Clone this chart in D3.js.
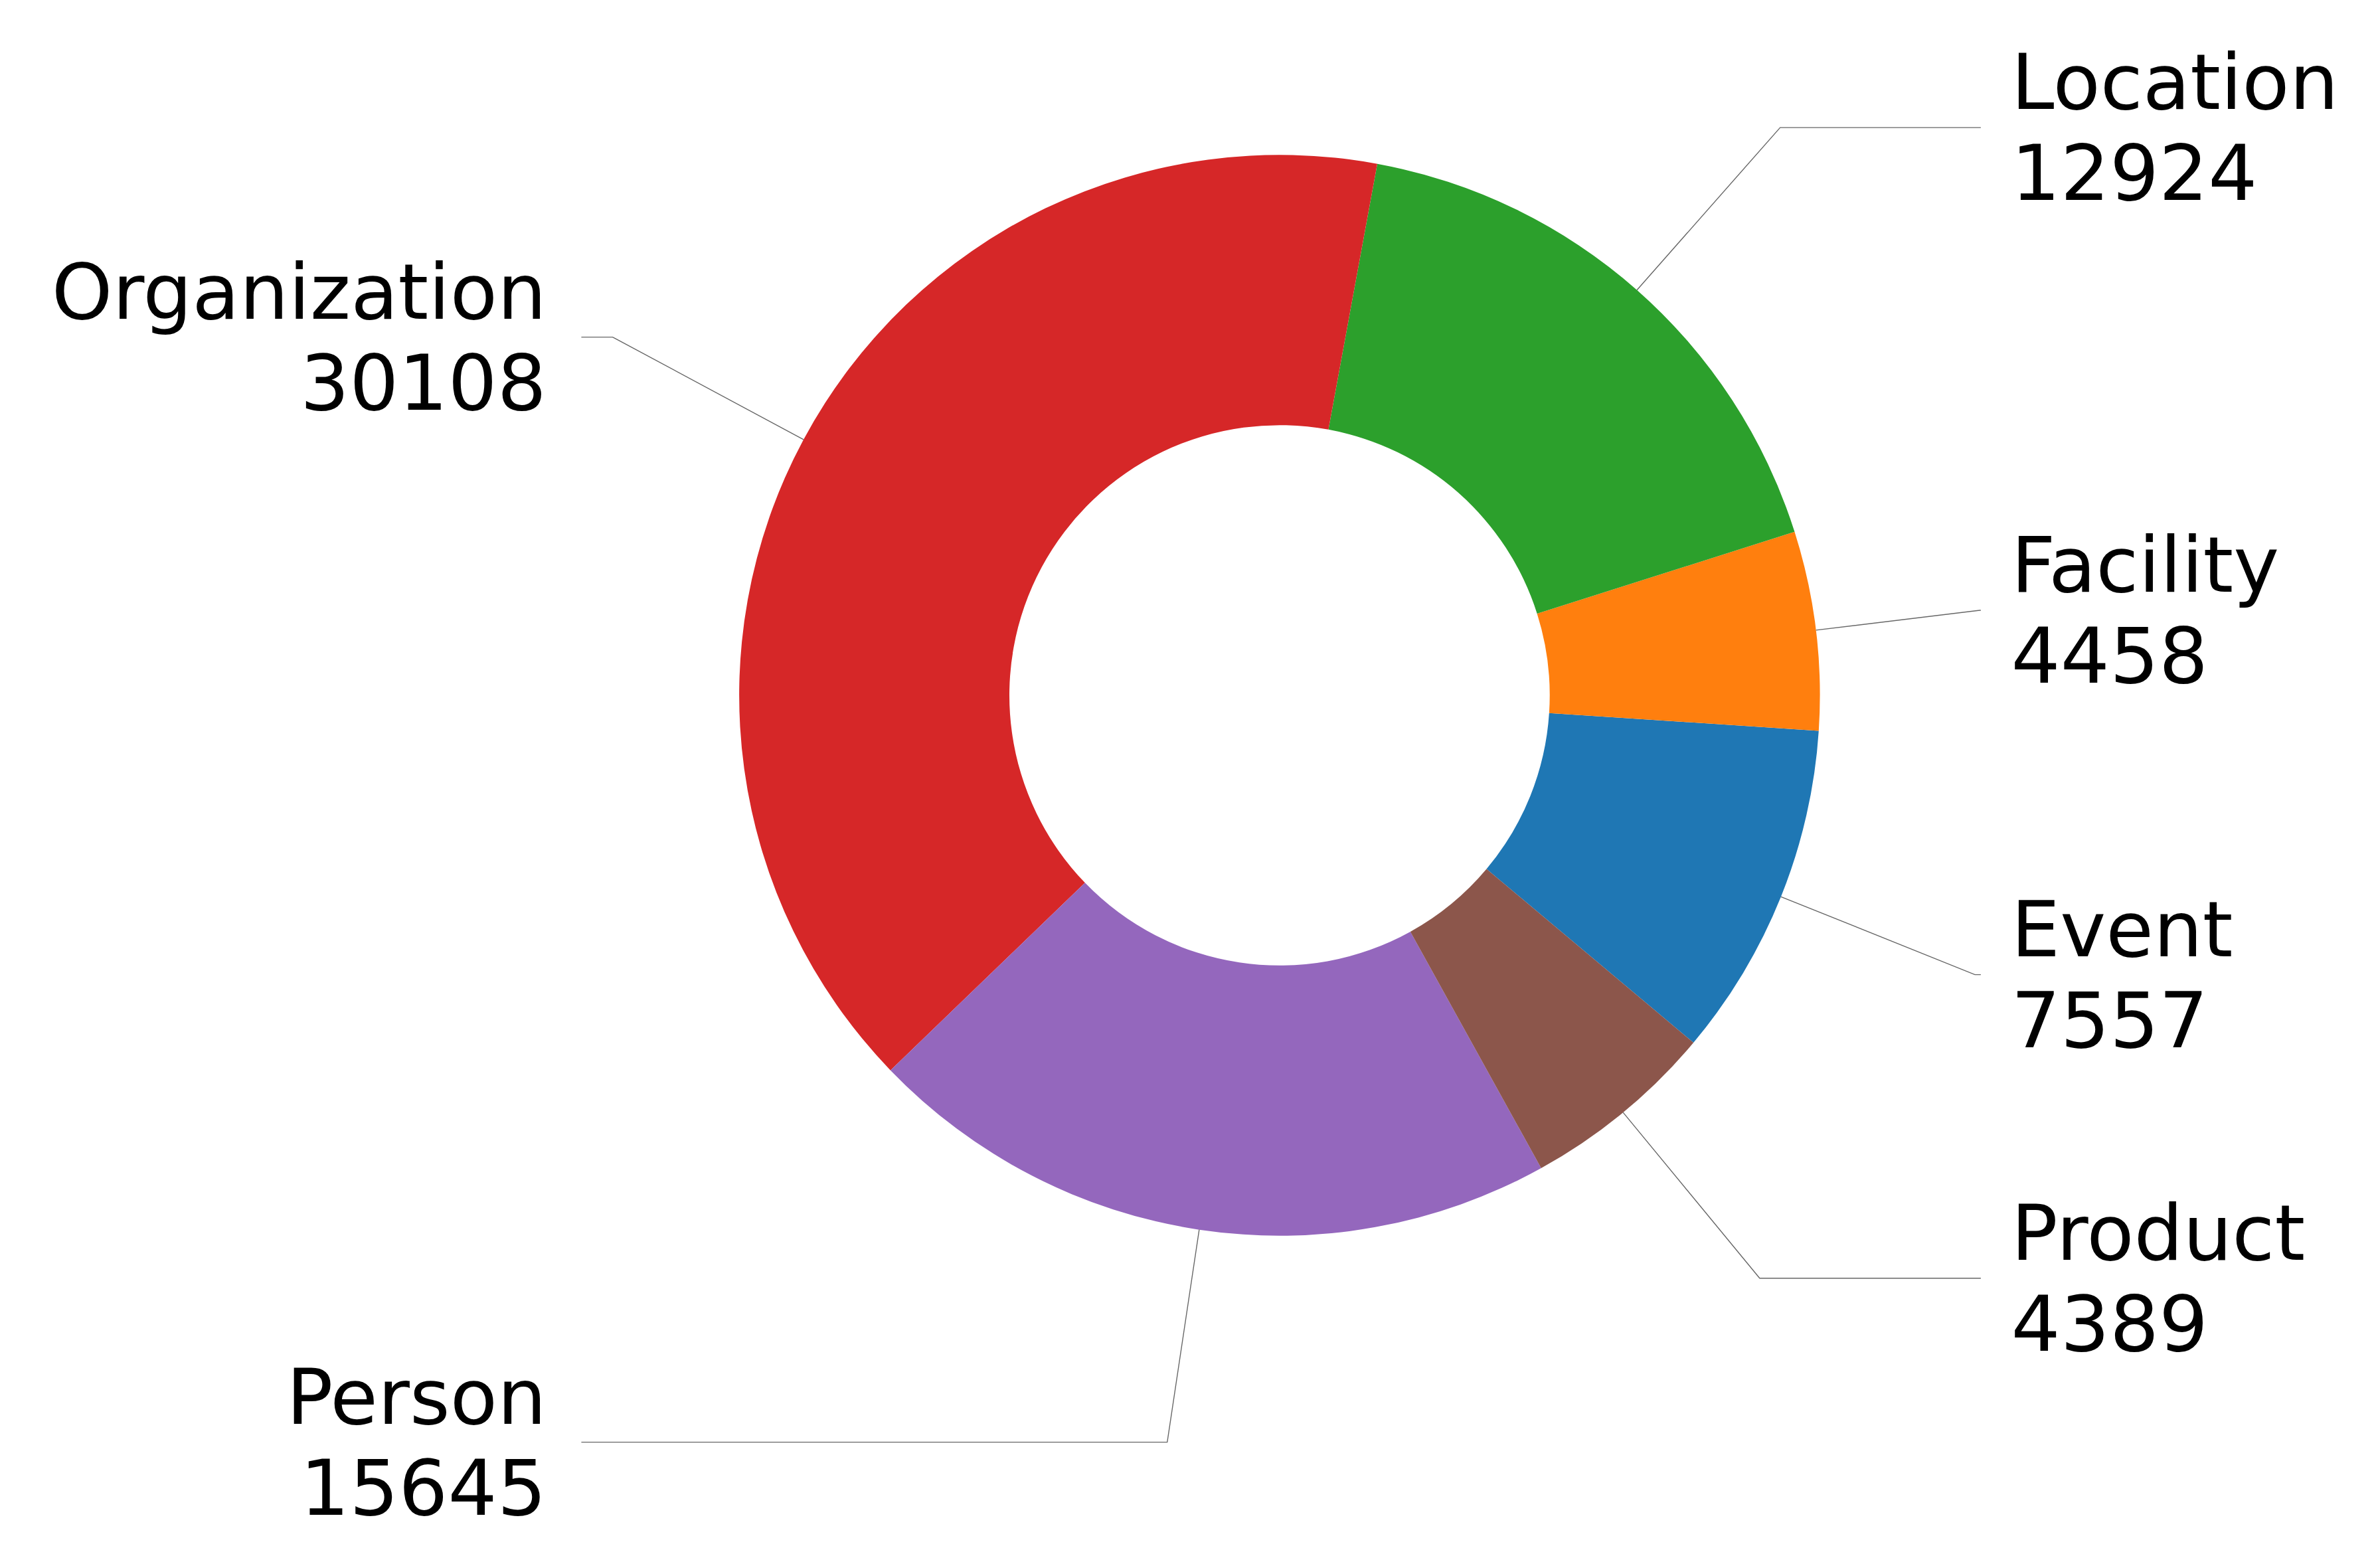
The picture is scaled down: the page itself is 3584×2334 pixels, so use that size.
<!DOCTYPE html>
<html><head><meta charset="utf-8">
<script src="https://cdn.jsdelivr.net/npm/d3@7"></script>
<style>html,body{margin:0;padding:0;background:#fff}</style>
</head><body>
<script>
const categories = ["Event","Facility","Location","Organization","Person","Product"];
const values = [7557,4458,12924,30108,15645,4389];
const colors = ["#1f77b4","#ff7f0e","#2ca02c","#d62728","#9467bd","#8c564b"];
const labelY = [642,402,84,222,950,842];

const W=1568,H=1021, cx=843, cy=458, R=356, r=178;
const svg=d3.select("body").append("svg").attr("width",3584).attr("height",2334)
  .attr("viewBox",`0 0 ${W} ${H}`);
const g=svg.append("g").attr("transform",`translate(${cx},${cy})`);
const start=(90+40)*Math.PI/180;
const pie=d3.pie().sort(null).startAngle(start).endAngle(start-2*Math.PI);
const arcs=pie(values);
const arc=d3.arc().innerRadius(r).outerRadius(R);
g.selectAll("path.s").data(arcs).enter().append("path")
  .attr("d",arc).attr("fill",(d,i)=>colors[i]);

arcs.forEach((d,i)=>{
  const a=(d.startAngle+d.endAngle)/2;
  const ux=Math.sin(a), uy=-Math.cos(a);
  const ax=ux*R, ay=uy*R;
  const ly=labelY[i]-cy;
  const right=ux>0;
  const lx=right?1305-cx:383-cx;
  let t=(ly-ay)/uy; let ex=ax+ux*t;
  if(right? ex>lx : ex<lx) ex=lx;
  g.append("path").attr("d",`M${ax},${ay}L${ex},${ly}L${lx},${ly}`)
    .attr("fill","none").attr("stroke","#666").attr("stroke-width",0.6);
  const tx=right?1325-cx:360-cx;
  const txt=g.append("text").attr("x",tx).attr("y",ly)
    .attr("text-anchor",right?"start":"end")
    .attr("font-family","DejaVu Sans").attr("font-size",51).attr("fill","#000");
  [categories[i],String(values[i])].forEach((s,k)=>{
    txt.append("tspan").attr("x",tx).attr("y",ly+(k===0?-30:30))
      .attr("dominant-baseline","central").text(s);
  });
});
</script>
</body></html>
